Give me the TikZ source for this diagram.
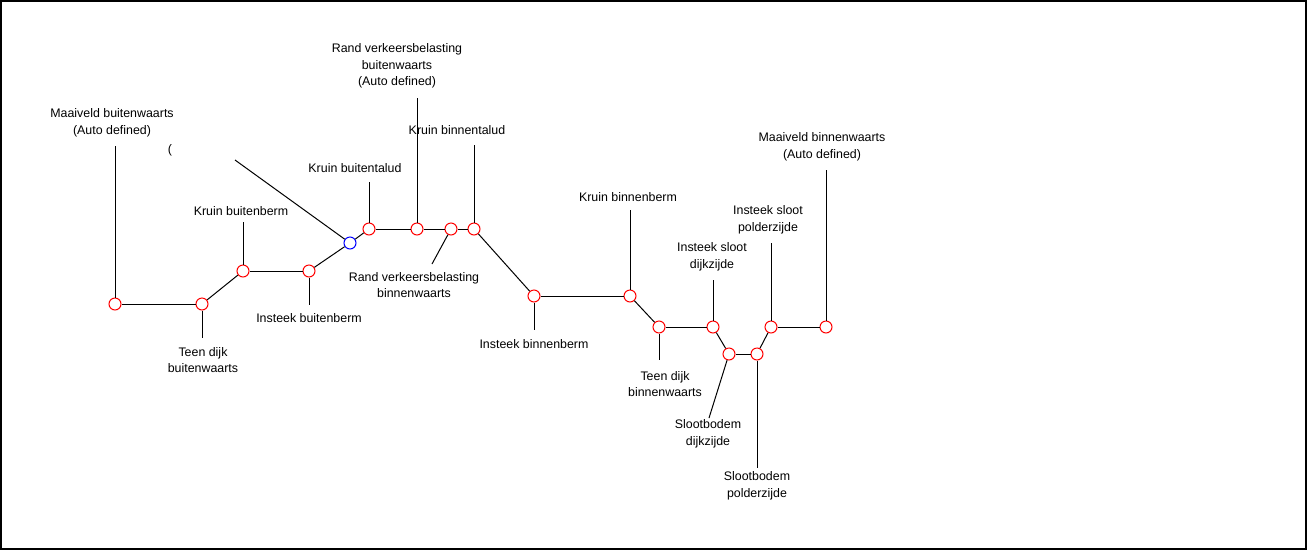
\documentclass[tikz,border=0pt]{standalone}
\usepackage{fontspec}
\setmainfont{Liberation Sans}
\begin{document}
\begin{tikzpicture}[x=1pt,y=-1pt,
  pt/.style={circle,draw=red,line width=1pt,minimum size=12pt,inner sep=0pt},
  bpt/.style={circle,draw=blue,line width=1pt,minimum size=12pt,inner sep=0pt},
  lbl/.style={align=center,font=\fontsize{12.4}{16.5}\selectfont,inner sep=0pt},
  prof/.style={line width=1pt},
  lead/.style={line width=1pt}]
\draw[line width=1.5pt] (1,1) rectangle (1306,549);
\useasboundingbox (0,0) rectangle (1307,550);
\node[pt] (p1) at (115,304) {};
\node[pt] (p2) at (202,304) {};
\node[pt] (p3) at (243,271) {};
\node[pt] (p4) at (309,271) {};
\node[bpt] (pb) at (350,243) {};
\node[pt] (p5) at (369,229) {};
\node[pt] (p6) at (417,229) {};
\node[pt] (p7) at (451,229) {};
\node[pt] (p8) at (474,229) {};
\node[pt] (p9) at (534,296) {};
\node[pt] (p10) at (630,296) {};
\node[pt] (p11) at (659,327) {};
\node[pt] (p12) at (713,327) {};
\node[pt] (p13) at (729,354) {};
\node[pt] (p14) at (757,354) {};
\node[pt] (p15) at (771,327) {};
\node[pt] (p16) at (826,327) {};
\foreach \a/\b in {p1/p2,p2/p3,p3/p4,p4/pb,pb/p5,p5/p6,p6/p7,p7/p8,p8/p9,p9/p10,p10/p11,p11/p12,p12/p13,p13/p14,p14/p15,p15/p16}
  \draw[prof] (\a) -- (\b);
% labels
\node[lbl] (l1) at (112,123) {Maaiveld buitenwaarts\\(Auto defined)};
\coordinate (c1) at (115,146); \draw[lead] (c1) -- (p1);
\node[lbl] (l2) at (203,360) {Teen dijk\\buitenwaarts};
\coordinate (c2) at (202,338); \draw[lead] (p2) -- (c2);
\node[lbl] (l3) at (241,211) {Kruin buitenberm};
\coordinate (c3) at (243,222); \draw[lead] (c3) -- (p3);
\node[lbl] (l4) at (309,318) {Insteek buitenberm};
\coordinate (c4) at (309,305); \draw[lead] (p4) -- (c4);
\node[lbl] (lp) at (170,150) {(};
\coordinate (cb) at (235,160); \draw[lead] (cb) -- (pb);
\node[lbl] (l5) at (355,168) {Kruin buitentalud};
\coordinate (c5) at (369,182); \draw[lead] (c5) -- (p5);
\node[lbl] (l6) at (397,66) {Rand verkeersbelasting\\buitenwaarts\\(Auto defined)};
\coordinate (c6) at (417,98); \draw[lead] (c6) -- (p6);
\node[lbl] (l8) at (457,130) {Kruin binnentalud};
\coordinate (c8) at (474,145); \draw[lead] (c8) -- (p8);
\node[lbl] (l7) at (414,285) {Rand verkeersbelasting\\binnenwaarts};
\coordinate (c7) at (432,264); \draw[lead] (p7) -- (c7);
\node[lbl] (l9) at (534,344) {Insteek binnenberm};
\coordinate (c9) at (534,330); \draw[lead] (p9) -- (c9);
\node[lbl] (l10) at (628,197) {Kruin binnenberm};
\coordinate (c10) at (630,210); \draw[lead] (c10) -- (p10);
\node[lbl] (l11) at (665,384) {Teen dijk\\binnenwaarts};
\coordinate (c11) at (659,360); \draw[lead] (p11) -- (c11);
\node[lbl] (l12) at (712,257) {Insteek sloot\\dijkzijde};
\coordinate (c12) at (713,280); \draw[lead] (c12) -- (p12);
\node[lbl] (l13) at (708,434) {Slootbodem\\dijkzijde};
\coordinate (c13) at (709,418); \draw[lead] (p13) -- (c13);
\node[lbl] (l14) at (757,486) {Slootbodem\\polderzijde};
\coordinate (c14) at (757,468); \draw[lead] (p14) -- (c14);
\node[lbl] (l15) at (768,220) {Insteek sloot\\polderzijde};
\coordinate (c15) at (771,243); \draw[lead] (c15) -- (p15);
\node[lbl] (l16) at (822,147) {Maaiveld binnenwaarts\\(Auto defined)};
\coordinate (c16) at (826,170); \draw[lead] (c16) -- (p16);
\end{tikzpicture}
\end{document}
